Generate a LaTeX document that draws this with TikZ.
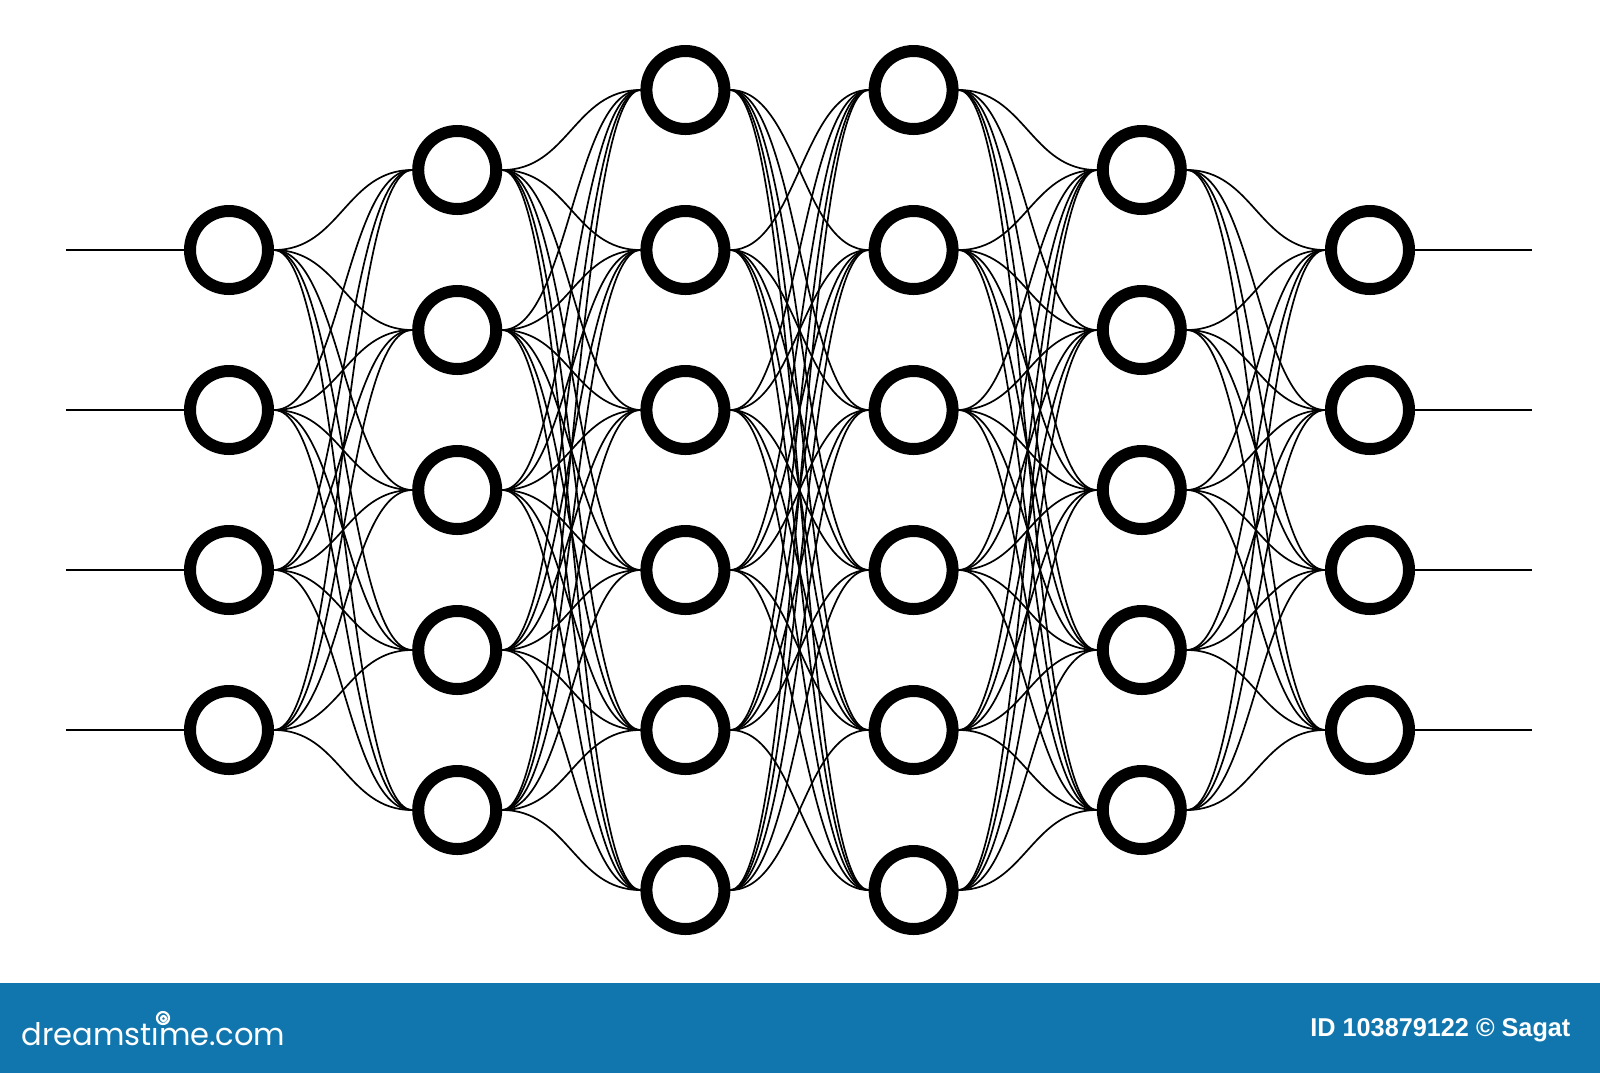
\documentclass[tikz,border=0pt]{standalone}
\usepackage{fontspec}
\newfontfamily\brandfont{Poppins}
\newfontfamily\idfont{Liberation Sans}
\definecolor{bannerblue}{RGB}{16,118,173}
\begin{document}
\begin{tikzpicture}[x=0.5pt,y=-0.5pt,
  neuron/.style={circle,draw=black,line width=6pt,minimum size=39pt,inner sep=0pt},
  link/.style={line width=0.85pt,black},
  bannertext/.style={text=white,inner sep=0pt,anchor=base west}]
\useasboundingbox (0,0) rectangle (1600,1073);
\fill[white] (0,0) rectangle (1600,1073);
% neurons
\foreach \l/\n in {1/4,2/5,3/6,4/6,5/5,6/4} {
  \foreach \k in {1,...,\n} {
    \node[neuron] (n\l-\k) at ({229+228.2*(\l-1)}, {490+(\k-(\n+1)/2)*160}) {};
  }
}
% connections
\foreach \a/\na/\b/\nb in {1/4/2/5, 2/5/3/6, 4/6/5/5, 5/5/6/4} {
  \foreach \i in {1,...,\na} {
    \foreach \j in {1,...,\nb} {
      \draw[link] (n\a-\i.east) .. controls ([xshift=33pt]n\a-\i.east) and ([xshift=-33pt]n\b-\j.west) .. (n\b-\j.west);
    }
  }
}
% middle layers: no straight same-row links
\foreach \i in {1,...,6} {
  \foreach \j in {1,...,6} {
    \ifnum\i=\j\relax\else
      \draw[link] (n3-\i.east) .. controls ([xshift=33pt]n3-\i.east) and ([xshift=-33pt]n4-\j.west) .. (n4-\j.west);
    \fi
  }
}
% inputs and outputs
\foreach \k in {1,...,4} {
  \coordinate (in\k) at (66, {490+(\k-2.5)*160});
  \coordinate (out\k) at (1532, {490+(\k-2.5)*160});
  \draw[link] (in\k) -- (n1-\k.west);
  \draw[link] (n6-\k.east) -- (out\k);
}
% banner
\fill[bannerblue] (0,983) rectangle (1600,1073);
\node[bannertext] (brand) at (21,1045) {\resizebox{132pt}{11.5pt}{\brandfont dreamst\char"0131 me.com}};
\draw[white,line width=1.1pt] (163,1018) circle[radius=6] (163.5,1018.5) circle[radius=2.5];
\node[bannertext] (credit) at (1310,1036) {\resizebox{130pt}{9pt}{\idfont\bfseries ID 103879122 © Sagat}};
\end{tikzpicture}
\end{document}
